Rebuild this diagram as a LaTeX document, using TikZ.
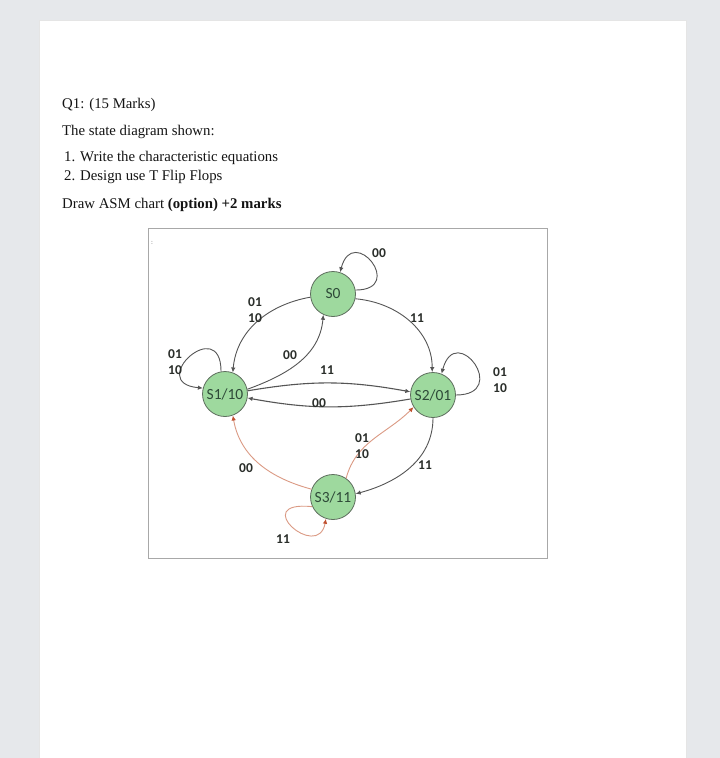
\documentclass[tikz,border=0pt]{standalone}
\usepackage{fontspec}
\setmainfont{Liberation Serif}
\newfontfamily\calfont{Carlito}
\usetikzlibrary{arrows.meta}

\definecolor{pagegray}{HTML}{E6E8EB}
\definecolor{framegray}{HTML}{A8A8A8}
\definecolor{statefill}{HTML}{9ED99E}
\definecolor{stateline}{HTML}{5E6E5E}
\definecolor{statetext}{HTML}{2E4A38}
\definecolor{edgegray}{HTML}{555555}
\definecolor{edgeorange}{HTML}{DB9A84}
\definecolor{arrowred}{HTML}{C0502F}
\definecolor{labeltext}{HTML}{2A2E2A}

\tikzset{
  qtext/.style = {anchor=west, inner sep=0pt, font=\fontsize{14.8}{17}\selectfont, text=black!92},
  state/.style = {circle, draw=stateline, line width=0.8pt, fill=statefill, minimum size=45pt, inner sep=0pt,
                  font=\calfont\fontsize{15.5}{17}\selectfont, text=statetext},
  edge/.style = {draw=edgegray, line width=0.9pt, -{Latex[length=5pt,width=4.5pt]}},
  redge/.style = {draw=edgeorange, line width=0.9pt, -{Latex[length=5pt,width=4.5pt,color=arrowred]}},
  lbl/.style = {align=center, inner sep=0pt, font=\calfont\bfseries\fontsize{13.5}{16}\selectfont, text=labeltext}
}

\begin{document}
\begin{tikzpicture}[x=1pt, y=-1pt]

\useasboundingbox (0,0) rectangle (720,758);
\fill[pagegray] (0,0) rectangle (720,758);
\fill[white, draw=black!10] (39,20) rectangle (686,760);

% question text
\node[qtext] (title) at (62,105) {Q1: (15 Marks)};
\node[qtext] (intro) at (62,132) {The state diagram shown:};
\node[qtext] (item1) at (64,158) {\makebox[16pt][l]{1.}Write the characteristic equations};
\node[qtext] (item2) at (64,177) {\makebox[16pt][l]{2.}Design use T Flip Flops};
\node[qtext] (asm) at (62,205) {Draw ASM chart \textbf{(option) +2 marks}};

% figure frame
\draw[framegray, line width=1pt] (148,228) rectangle (547,558);
\node[font=\calfont\fontsize{7}{7}\selectfont, text=black!50] (dots) at (152,243) {:};

% states
\node[state] (s0) at (333,294) {S0};
\node[state] (s1) at (225,394) {S1/10};
\node[state] (s2) at (433,395) {S2/01};
\node[state] (s3) at (333,497) {S3/11};

% transitions
\draw[edge] (s0.10) to[out=0,in=75,looseness=5.5] (s0.72);
\draw[edge] (s0.188) to[out=190,in=85] (s1.70);
\draw[edge] (s1.12) to[out=20,in=265] (s0.245);
\draw[edge] (s0.-12) to[out=-5,in=90] (s2.92);
\draw[edge] (s1.100) to[out=90,in=175,looseness=6] (s1.165);
\draw[edge] (s2.0) to[out=0,in=75,looseness=5.5] (s2.68);
\draw[edge, line width=1.1pt] (s1.8) to[bend left=10] (s2.172);
\draw[edge, line width=1.1pt] (s2.190) to[bend left=10] (s1.-10);
\draw[redge] (s3.160) to[out=165,in=-80] (s1.-70);
\draw[redge] (s3.55) to[out=75,in=225] (s2.212);
\draw[edge] (s2.-90) to[out=-90,in=15] (s3.8);
\draw[redge] (s3.205) .. controls (248,500) and (318,562) .. (s3.252);

% input labels
\node[lbl] (l00top) at (379,253) {00};
\node[lbl] (l0110a) at (255,310) {01\\10};
\node[lbl] (l00b) at (290,355) {00};
\node[lbl] (l11a) at (417,318) {11};
\node[lbl] (l0110b) at (175,362) {01\\10};
\node[lbl] (l0110c) at (500,380) {01\\10};
\node[lbl] (l11b) at (327,370) {11};
\node[lbl] (l00c) at (319,403) {00};
\node[lbl] (l00d) at (246,468) {00};
\node[lbl] (l0110d) at (362,446) {01\\10};
\node[lbl] (l11c) at (425,465) {11};
\node[lbl] (l11d) at (283,539) {11};

\end{tikzpicture}
\end{document}
